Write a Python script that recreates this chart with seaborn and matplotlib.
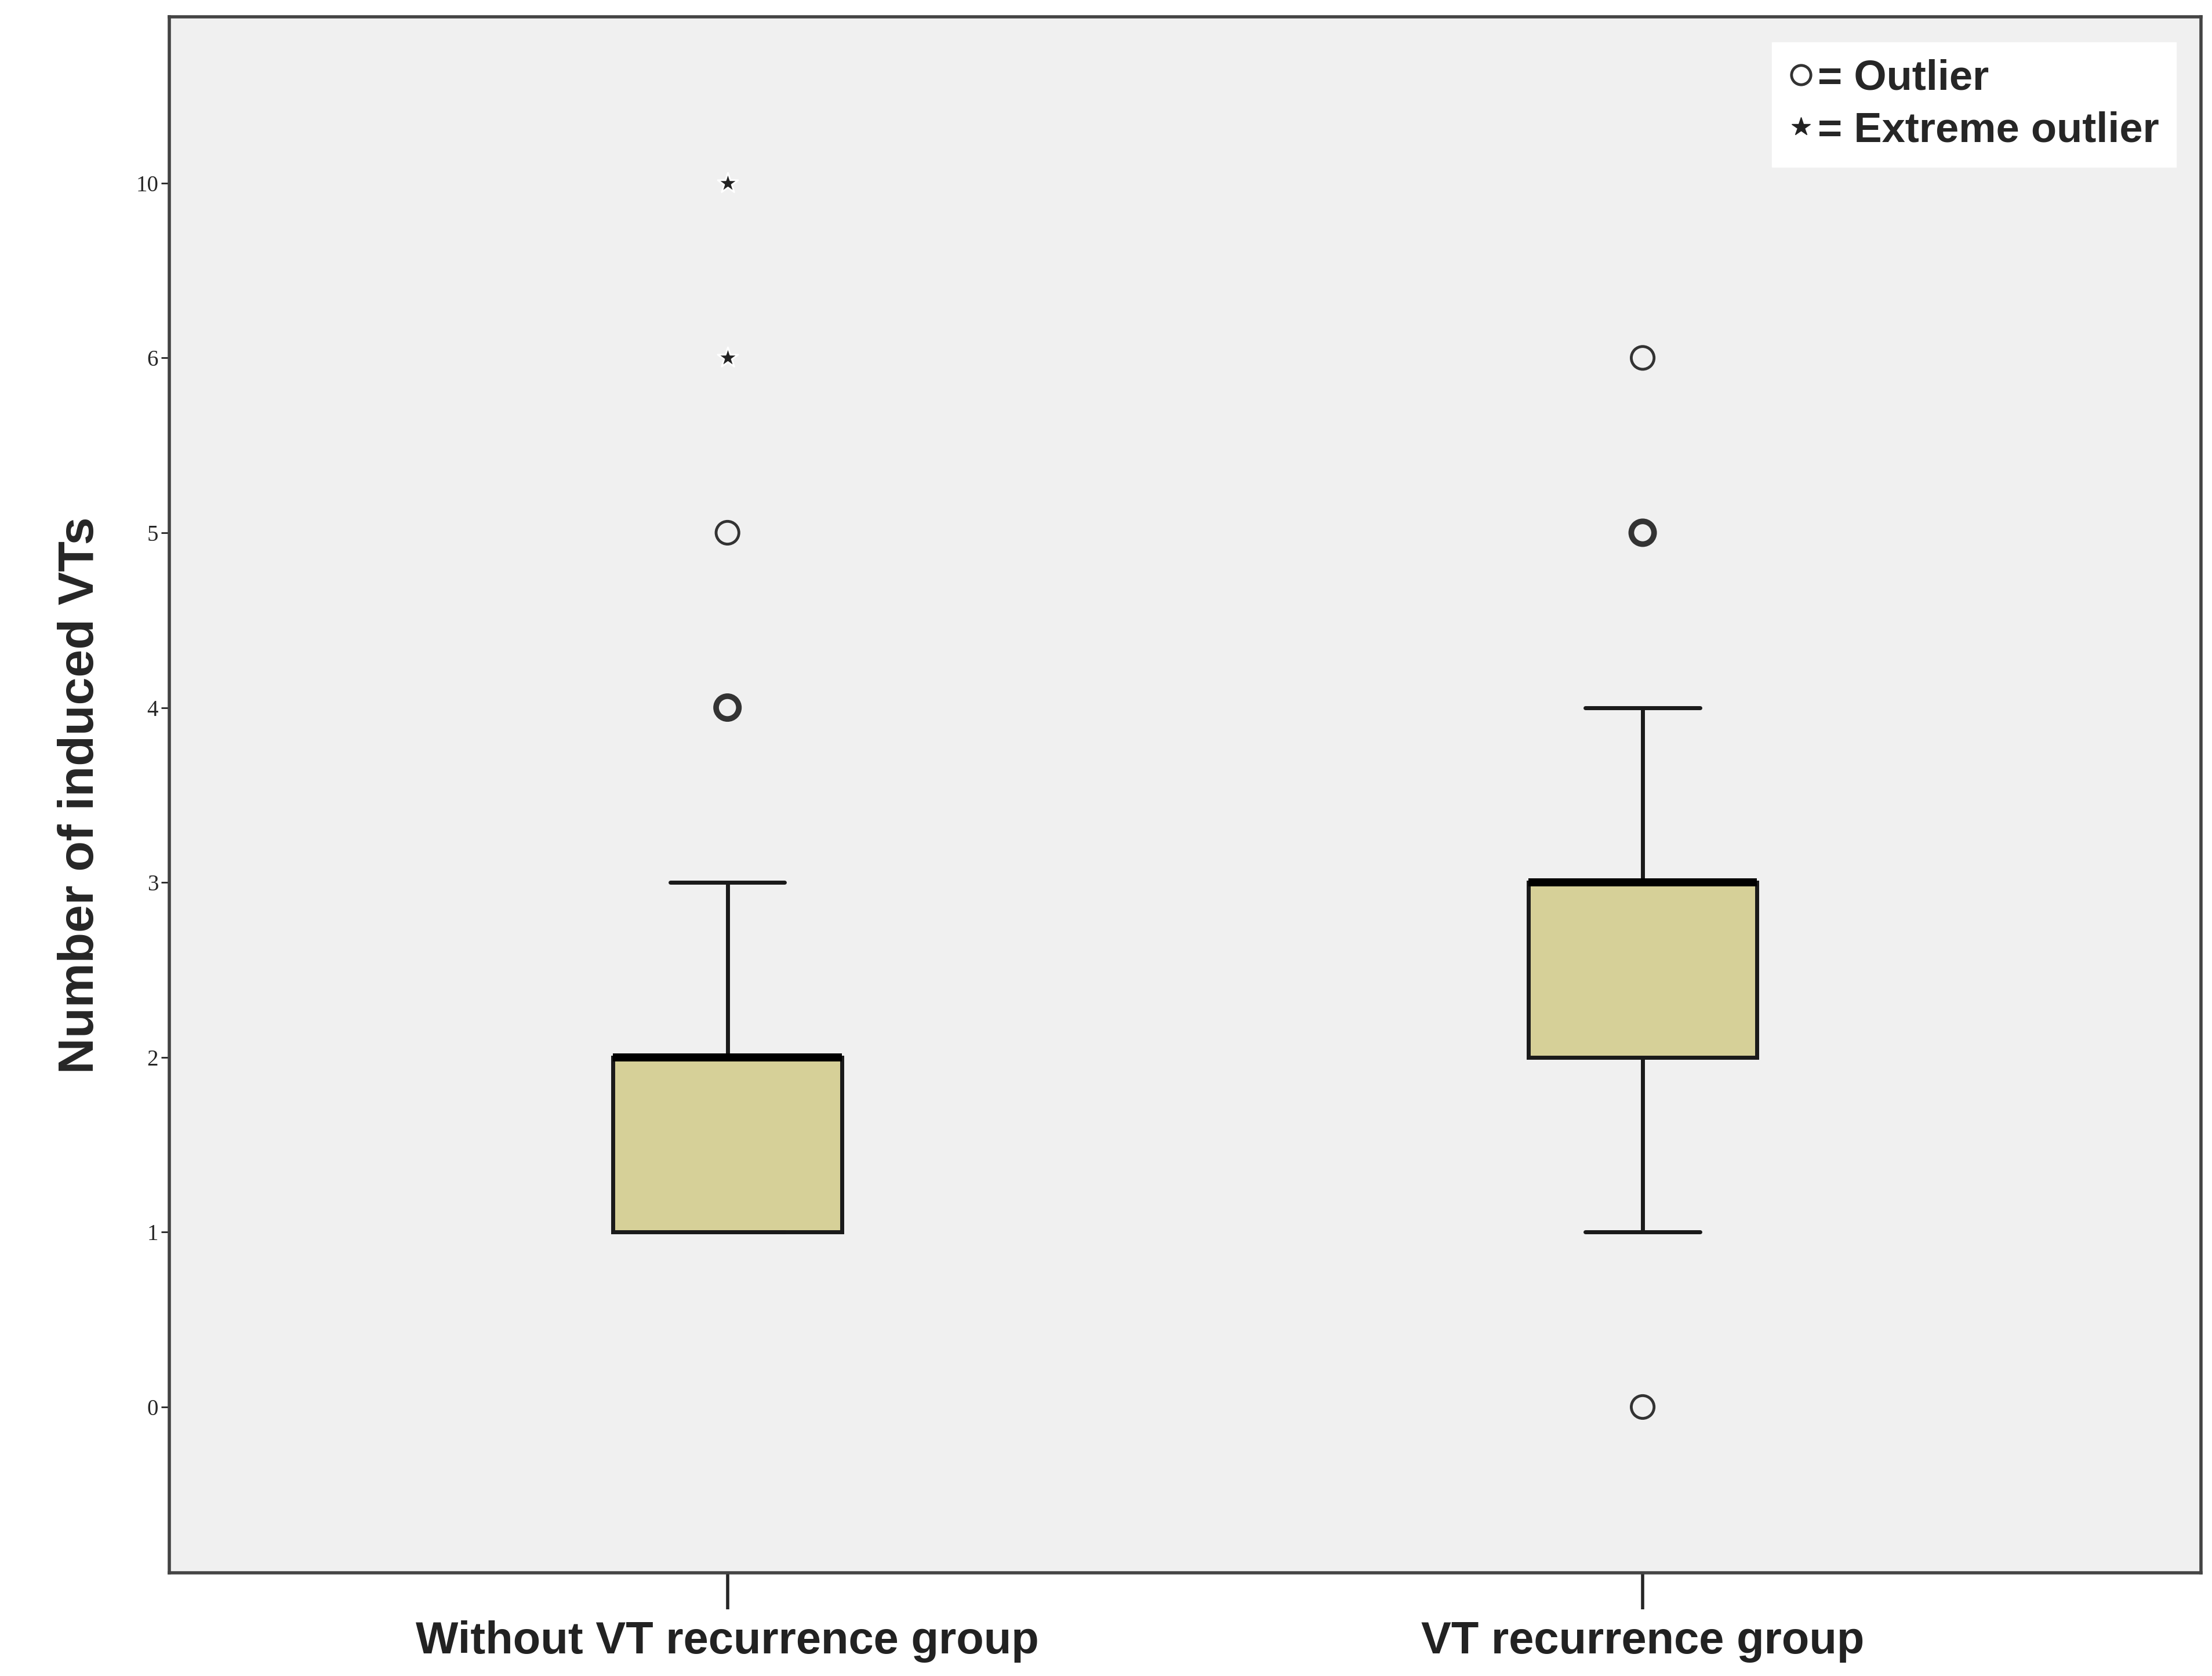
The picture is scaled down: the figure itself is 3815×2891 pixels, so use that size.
import numpy as np
import pandas as pd
import matplotlib
matplotlib.use("Agg")
import matplotlib.pyplot as plt
from matplotlib.lines import Line2D
import seaborn as sns

# y axis in the original is ordinal: 0,1,2,3,4,5,6,10 equally spaced
tick_values = [0, 1, 2, 3, 4, 5, 6, 10]
groups = ["Without VT recurrence group", "VT recurrence group"]

no_recur = [1] * 8 + [2] * 14 + [3, 4, 4, 5, 6, 10]
recur = [0, 1, 1] + [2] * 6 + [3] * 12 + [4, 4, 5, 5, 6]

outliers_group = [0, 0, 0, 1, 1, 1, 1]
outliers_value = [4, 4, 5, 0, 5, 5, 6]
extreme_group = [0, 0]
extreme_value = [6, 10]

pos = {v: i for i, v in enumerate(tick_values)}

df = pd.DataFrame({
    "group": [groups[0]] * len(no_recur) + [groups[1]] * len(recur),
    "pos": [pos[v] for v in no_recur + recur],
})

sns.set_style("white")
plt.rcParams["font.family"] = ["Liberation Sans", "DejaVu Sans"]

fig = plt.figure(figsize=(38.15, 28.91), dpi=100)
ax = fig.add_axes([0.0765, 0.0614, 0.9185, 0.9285])
ax.set_facecolor("#f0f0f0")

sns.boxplot(data=df, x="group", y="pos", order=groups, ax=ax, width=0.25,
            color="#d6d098", saturation=1, showfliers=False, whis=1.5,
            linewidth=5, linecolor="#1a1a1a",
            medianprops=dict(linewidth=10, color="black"),
            capwidths=0.125)

# repeated outliers look bolder in the original
out = pd.DataFrame({"g": outliers_group, "v": outliers_value})
counts = out.value_counts().reset_index(name="n")
for n, sub in counts.groupby("n"):
    sns.scatterplot(x=sub["g"].tolist(), y=[pos[v] for v in sub["v"]], ax=ax,
                    marker="o", s=800, facecolor="none", edgecolor="#333333",
                    linewidth=3.5 if n == 1 else 7, zorder=5)
sns.scatterplot(x=extreme_group, y=[pos[v] for v in extreme_value], ax=ax,
                marker="*", s=700, color="#222222", zorder=5)

ax.set_xlim(-0.61, 1.61)
ax.set_ylim(-0.95, 7.95)
ax.set_yticks(range(len(tick_values)))
ax.set_yticklabels([str(v) for v in tick_values], family="Liberation Serif", fontsize=28)
ax.set_xticks([0, 1])
ax.set_xticklabels(groups, fontsize=56, fontweight="bold", color="#222222")
ax.tick_params(axis="y", direction="out", length=10, width=2, left=True)
ax.tick_params(axis="x", direction="out", length=45, width=4, bottom=True, pad=14)
ax.set_xlabel("")
ax.set_ylabel("Number of induced VTs", fontsize=62, fontweight="bold", labelpad=40)
for s in ax.spines.values():
    s.set_linewidth(4)
    s.set_color("#444444")

handles = [
    Line2D([], [], marker="o", linestyle="none", markersize=24, markerfacecolor="none",
           markeredgecolor="#333333", markeredgewidth=3.5, label="= Outlier"),
    Line2D([], [], marker="*", linestyle="none", markersize=24, color="#222222",
           label="= Extreme outlier"),
]
leg = ax.legend(handles=handles, loc="upper right", fontsize=52, frameon=True,
                fancybox=False, framealpha=1, edgecolor="white", handlelength=0.6,
                handletextpad=0.1, borderaxespad=0.6, labelspacing=0.3,
                prop=dict(size=52, weight="bold"))

fig.savefig("out.png", dpi=100)
